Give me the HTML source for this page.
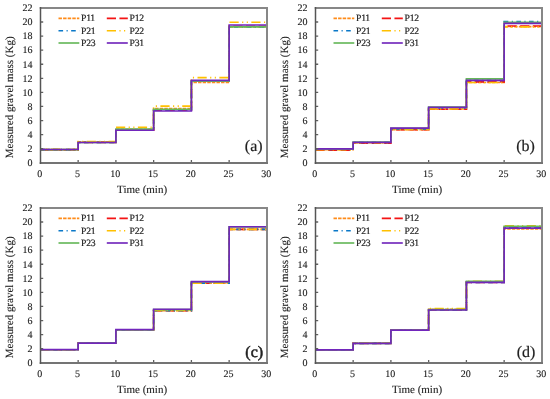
<!DOCTYPE html>
<html><head><meta charset="utf-8"><title>Measured gravel mass</title>
<style>
html,body{margin:0;padding:0;background:#fff;}
body{width:550px;height:399px;overflow:hidden;}
svg{display:block;text-rendering:geometricPrecision;}
text{font-family:"Liberation Serif","Times New Roman",serif;fill:#222;stroke:#222;stroke-width:0.3px;}
.tk{font-size:10px;stroke-width:0.12px;}
.lg{font-size:9.7px;letter-spacing:-0.25px;stroke-width:0.2px;}
.ti{font-size:11px;stroke-width:0.12px;}
.pl{font-size:16px;stroke-width:0.2px;}
.pl.b{stroke-width:0.55px;}
</style></head><body>
<svg width="550" height="399" viewBox="0 0 550 399">
<rect width="550" height="399" fill="#fff"/>
<g transform="translate(0 0)">
<text class="tk" x="32.6" y="166.1" text-anchor="end">0</text>
<text class="tk" x="32.6" y="152.02" text-anchor="end">2</text>
<text class="tk" x="32.6" y="137.94" text-anchor="end">4</text>
<text class="tk" x="32.6" y="123.85" text-anchor="end">6</text>
<text class="tk" x="32.6" y="109.77" text-anchor="end">8</text>
<text class="tk" x="32.6" y="95.69" text-anchor="end">10</text>
<text class="tk" x="32.6" y="81.61" text-anchor="end">12</text>
<text class="tk" x="32.6" y="67.53" text-anchor="end">14</text>
<text class="tk" x="32.6" y="53.45" text-anchor="end">16</text>
<text class="tk" x="32.6" y="39.36" text-anchor="end">18</text>
<text class="tk" x="32.6" y="25.28" text-anchor="end">20</text>
<text class="tk" x="32.6" y="11.2" text-anchor="end">22</text>
<text class="tk" x="39.8" y="177.3" text-anchor="middle">0</text>
<text class="tk" x="77.55" y="177.3" text-anchor="middle">5</text>
<text class="tk" x="115.3" y="177.3" text-anchor="middle">10</text>
<text class="tk" x="153.05" y="177.3" text-anchor="middle">15</text>
<text class="tk" x="190.8" y="177.3" text-anchor="middle">20</text>
<text class="tk" x="228.55" y="177.3" text-anchor="middle">25</text>
<text class="tk" x="266.3" y="177.3" text-anchor="middle">30</text>
<text class="ti" x="142.1" y="193" text-anchor="middle">Time (min)</text>
<text class="ti" transform="translate(13.3 97.3) rotate(-90)" text-anchor="middle">Measured gravel mass (Kg)</text>
<path d="M40.4 150.27H78.15V141.82H115.9V129.36H153.65V108.59H191.4V82.53H229.15V26.91H266.9" stroke="#ff8c1a" stroke-width="1.65" fill="none" stroke-dasharray="3.45 1.15"/>
<path d="M40.4 149.56H78.15V142.52H115.9V130.13H153.65V110.2H191.4V81.13H229.15V26.21H266.9" stroke="#f41414" stroke-width="1.65" fill="none" stroke-dasharray="9.2 3.45"/>
<path d="M40.4 149.56H78.15V142.52H115.9V129.71H153.65V109.99H191.4V81.13H229.15V26.91H266.9" stroke="#0a78c8" stroke-width="1.65" fill="none" stroke-dasharray="4.6 3.45 1.15 3.45"/>
<path d="M40.4 149.42H78.15V141.68H115.9V127.31H153.65V106.12H191.4V77.68H229.15V22.26H266.9" stroke="#ffc000" stroke-width="1.65" fill="none" stroke-dasharray="9.2 3.45 1.15 3.45 1.15 3.45" stroke-dashoffset="11.5"/>
<path d="M40.4 149.56H78.15V142.52H115.9V129.07H153.65V109.29H191.4V81.13H229.15V26.91H266.9" stroke="#66b85a" stroke-width="1.65" fill="none"/>
<path d="M40.4 149.49H78.15V142.52H115.9V130.2H153.65V110.98H191.4V80.42H229.15V25.01H266.9" stroke="#7226bc" stroke-width="1.65" fill="none"/>
<path d="M40.4 148.72H43.2M40.4 134.64H43.2M40.4 120.55H43.2M40.4 106.47H43.2M40.4 92.39H43.2M40.4 78.31H43.2M40.4 64.23H43.2M40.4 50.15H43.2M40.4 36.06H43.2M40.4 21.98H43.2M78.15 162.8V160M115.9 162.8V160M153.65 162.8V160M191.4 162.8V160M229.15 162.8V160" stroke="#5f5f5f" stroke-width="1.3" fill="none"/>
<path d="M39.75 8H268" stroke="#878787" stroke-width="2" fill="none"/>
<path d="M267 7V164" stroke="#878787" stroke-width="2" fill="none"/>
<path d="M39.75 163H268" stroke="#747474" stroke-width="2" fill="none"/>
<path d="M40.5 7V164" stroke="#555" stroke-width="1.5" fill="none"/>
<path d="M58.5 18.3H79.3" stroke="#ff8c1a" stroke-width="1.65" fill="none" stroke-dasharray="3.45 1.15"/>
<text class="lg" x="81" y="21.4">P11</text>
<path d="M106.8 18.3H127.8" stroke="#f41414" stroke-width="1.65" fill="none" stroke-dasharray="9.2 3.45"/>
<text class="lg" x="129.6" y="21.4">P12</text>
<path d="M58.5 30.7H79.3" stroke="#0a78c8" stroke-width="1.65" fill="none" stroke-dasharray="4.6 3.45 1.15 3.45"/>
<text class="lg" x="81" y="33.8">P21</text>
<path d="M106.8 30.7H127.8" stroke="#ffc000" stroke-width="1.65" fill="none" stroke-dasharray="9.2 3.45 1.15 3.45 1.15 3.45"/>
<text class="lg" x="129.6" y="33.8">P22</text>
<path d="M58.5 43H79.3" stroke="#66b85a" stroke-width="1.65" fill="none"/>
<text class="lg" x="81" y="46.1">P23</text>
<path d="M106.8 43H127.8" stroke="#7226bc" stroke-width="1.65" fill="none"/>
<text class="lg" x="129.6" y="46.1">P31</text>
<text class="pl" x="262.6" y="150.6" text-anchor="end">(a)</text>
</g>
<g transform="translate(275 0)">
<text class="tk" x="32.6" y="166.1" text-anchor="end">0</text>
<text class="tk" x="32.6" y="152.02" text-anchor="end">2</text>
<text class="tk" x="32.6" y="137.94" text-anchor="end">4</text>
<text class="tk" x="32.6" y="123.85" text-anchor="end">6</text>
<text class="tk" x="32.6" y="109.77" text-anchor="end">8</text>
<text class="tk" x="32.6" y="95.69" text-anchor="end">10</text>
<text class="tk" x="32.6" y="81.61" text-anchor="end">12</text>
<text class="tk" x="32.6" y="67.53" text-anchor="end">14</text>
<text class="tk" x="32.6" y="53.45" text-anchor="end">16</text>
<text class="tk" x="32.6" y="39.36" text-anchor="end">18</text>
<text class="tk" x="32.6" y="25.28" text-anchor="end">20</text>
<text class="tk" x="32.6" y="11.2" text-anchor="end">22</text>
<text class="tk" x="39.8" y="177.3" text-anchor="middle">0</text>
<text class="tk" x="77.55" y="177.3" text-anchor="middle">5</text>
<text class="tk" x="115.3" y="177.3" text-anchor="middle">10</text>
<text class="tk" x="153.05" y="177.3" text-anchor="middle">15</text>
<text class="tk" x="190.8" y="177.3" text-anchor="middle">20</text>
<text class="tk" x="228.55" y="177.3" text-anchor="middle">25</text>
<text class="tk" x="266.3" y="177.3" text-anchor="middle">30</text>
<text class="ti" x="142.1" y="193" text-anchor="middle">Time (min)</text>
<text class="ti" transform="translate(13.3 97.3) rotate(-90)" text-anchor="middle">Measured gravel mass (Kg)</text>
<path d="M40.4 149.77H78.15V142.73H115.9V129.57H153.65V109.08H191.4V82.53H229.15V26.56H266.9" stroke="#ff8c1a" stroke-width="1.65" fill="none" stroke-dasharray="3.45 1.15"/>
<path d="M40.4 150.13H78.15V143.09H115.9V129.57H153.65V109.29H191.4V81.83H229.15V26H266.9" stroke="#f41414" stroke-width="1.65" fill="none" stroke-dasharray="9.2 3.45"/>
<path d="M40.4 149.42H78.15V142.38H115.9V129H153.65V107.88H191.4V80.42H229.15V21.49H266.9" stroke="#0a78c8" stroke-width="1.65" fill="none" stroke-dasharray="4.6 3.45 1.15 3.45"/>
<path d="M40.4 149.77H78.15V142.73H115.9V129.36H153.65V108.94H191.4V82.53H229.15V26.91H266.9" stroke="#ffc000" stroke-width="1.65" fill="none" stroke-dasharray="9.2 3.45 1.15 3.45 1.15 3.45"/>
<path d="M40.4 149.07H78.15V142.03H115.9V128.3H153.65V107.18H191.4V78.87H229.15V22.26H266.9" stroke="#66b85a" stroke-width="1.65" fill="none"/>
<path d="M40.4 148.93H78.15V142.38H115.9V128.09H153.65V107.32H191.4V80.42H229.15V23.39H266.9" stroke="#7226bc" stroke-width="1.65" fill="none"/>
<path d="M40.4 148.72H43.2M40.4 134.64H43.2M40.4 120.55H43.2M40.4 106.47H43.2M40.4 92.39H43.2M40.4 78.31H43.2M40.4 64.23H43.2M40.4 50.15H43.2M40.4 36.06H43.2M40.4 21.98H43.2M78.15 162.8V160M115.9 162.8V160M153.65 162.8V160M191.4 162.8V160M229.15 162.8V160" stroke="#5f5f5f" stroke-width="1.3" fill="none"/>
<path d="M39.75 8H268" stroke="#878787" stroke-width="2" fill="none"/>
<path d="M267 7V164" stroke="#878787" stroke-width="2" fill="none"/>
<path d="M39.75 163H268" stroke="#747474" stroke-width="2" fill="none"/>
<path d="M40.5 7V164" stroke="#555" stroke-width="1.5" fill="none"/>
<path d="M58.5 18.3H79.3" stroke="#ff8c1a" stroke-width="1.65" fill="none" stroke-dasharray="3.45 1.15"/>
<text class="lg" x="81" y="21.4">P11</text>
<path d="M106.8 18.3H127.8" stroke="#f41414" stroke-width="1.65" fill="none" stroke-dasharray="9.2 3.45"/>
<text class="lg" x="129.6" y="21.4">P12</text>
<path d="M58.5 30.7H79.3" stroke="#0a78c8" stroke-width="1.65" fill="none" stroke-dasharray="4.6 3.45 1.15 3.45"/>
<text class="lg" x="81" y="33.8">P21</text>
<path d="M106.8 30.7H127.8" stroke="#ffc000" stroke-width="1.65" fill="none" stroke-dasharray="9.2 3.45 1.15 3.45 1.15 3.45"/>
<text class="lg" x="129.6" y="33.8">P22</text>
<path d="M58.5 43H79.3" stroke="#66b85a" stroke-width="1.65" fill="none"/>
<text class="lg" x="81" y="46.1">P23</text>
<path d="M106.8 43H127.8" stroke="#7226bc" stroke-width="1.65" fill="none"/>
<text class="lg" x="129.6" y="46.1">P31</text>
<text class="pl" x="259.8" y="150.6" text-anchor="end">(b)</text>
</g>
<g transform="translate(0 200)">
<text class="tk" x="32.6" y="166.1" text-anchor="end">0</text>
<text class="tk" x="32.6" y="152.02" text-anchor="end">2</text>
<text class="tk" x="32.6" y="137.94" text-anchor="end">4</text>
<text class="tk" x="32.6" y="123.85" text-anchor="end">6</text>
<text class="tk" x="32.6" y="109.77" text-anchor="end">8</text>
<text class="tk" x="32.6" y="95.69" text-anchor="end">10</text>
<text class="tk" x="32.6" y="81.61" text-anchor="end">12</text>
<text class="tk" x="32.6" y="67.53" text-anchor="end">14</text>
<text class="tk" x="32.6" y="53.45" text-anchor="end">16</text>
<text class="tk" x="32.6" y="39.36" text-anchor="end">18</text>
<text class="tk" x="32.6" y="25.28" text-anchor="end">20</text>
<text class="tk" x="32.6" y="11.2" text-anchor="end">22</text>
<text class="tk" x="39.8" y="177.3" text-anchor="middle">0</text>
<text class="tk" x="77.55" y="177.3" text-anchor="middle">5</text>
<text class="tk" x="115.3" y="177.3" text-anchor="middle">10</text>
<text class="tk" x="153.05" y="177.3" text-anchor="middle">15</text>
<text class="tk" x="190.8" y="177.3" text-anchor="middle">20</text>
<text class="tk" x="228.55" y="177.3" text-anchor="middle">25</text>
<text class="tk" x="266.3" y="177.3" text-anchor="middle">30</text>
<text class="ti" x="142.1" y="193" text-anchor="middle">Time (min)</text>
<text class="ti" transform="translate(13.3 97.3) rotate(-90)" text-anchor="middle">Measured gravel mass (Kg)</text>
<path d="M40.4 149.77H78.15V143.09H115.9V129.71H153.65V110.63H191.4V83.24H229.15V29.37H266.9" stroke="#ff8c1a" stroke-width="1.65" fill="none" stroke-dasharray="3.45 1.15"/>
<path d="M40.4 149.77H78.15V143.09H115.9V129.71H153.65V110.63H191.4V83.24H229.15V29.37H266.9" stroke="#f41414" stroke-width="1.65" fill="none" stroke-dasharray="9.2 3.45"/>
<path d="M40.4 149.77H78.15V143.09H115.9V129.71H153.65V110.63H191.4V83.24H229.15V29.37H266.9" stroke="#0a78c8" stroke-width="1.65" fill="none" stroke-dasharray="4.6 3.45 1.15 3.45"/>
<path d="M40.4 149.77H78.15V143.09H115.9V129.71H153.65V110.35H191.4V83.24H229.15V29.37H266.9" stroke="#ffc000" stroke-width="1.65" fill="none" stroke-dasharray="9.2 3.45 1.15 3.45 1.15 3.45"/>
<path d="M40.4 149.77H78.15V143.09H115.9V129.99H153.65V109.64H191.4V81.83H229.15V26.91H266.9" stroke="#66b85a" stroke-width="1.65" fill="none"/>
<path d="M40.4 149.6H78.15V143.09H115.9V129.57H153.65V109.29H191.4V81.62H229.15V26.77H266.9" stroke="#7226bc" stroke-width="1.65" fill="none"/>
<path d="M40.4 148.72H43.2M40.4 134.64H43.2M40.4 120.55H43.2M40.4 106.47H43.2M40.4 92.39H43.2M40.4 78.31H43.2M40.4 64.23H43.2M40.4 50.15H43.2M40.4 36.06H43.2M40.4 21.98H43.2M78.15 162.8V160M115.9 162.8V160M153.65 162.8V160M191.4 162.8V160M229.15 162.8V160" stroke="#5f5f5f" stroke-width="1.3" fill="none"/>
<path d="M39.75 8H268" stroke="#878787" stroke-width="2" fill="none"/>
<path d="M267 7V164" stroke="#878787" stroke-width="2" fill="none"/>
<path d="M39.75 163H268" stroke="#747474" stroke-width="2" fill="none"/>
<path d="M40.5 7V164" stroke="#555" stroke-width="1.5" fill="none"/>
<path d="M58.5 18.3H79.3" stroke="#ff8c1a" stroke-width="1.65" fill="none" stroke-dasharray="3.45 1.15"/>
<text class="lg" x="81" y="21.4">P11</text>
<path d="M106.8 18.3H127.8" stroke="#f41414" stroke-width="1.65" fill="none" stroke-dasharray="9.2 3.45"/>
<text class="lg" x="129.6" y="21.4">P12</text>
<path d="M58.5 30.7H79.3" stroke="#0a78c8" stroke-width="1.65" fill="none" stroke-dasharray="4.6 3.45 1.15 3.45"/>
<text class="lg" x="81" y="33.8">P21</text>
<path d="M106.8 30.7H127.8" stroke="#ffc000" stroke-width="1.65" fill="none" stroke-dasharray="9.2 3.45 1.15 3.45 1.15 3.45"/>
<text class="lg" x="129.6" y="33.8">P22</text>
<path d="M58.5 43H79.3" stroke="#66b85a" stroke-width="1.65" fill="none"/>
<text class="lg" x="81" y="46.1">P23</text>
<path d="M106.8 43H127.8" stroke="#7226bc" stroke-width="1.65" fill="none"/>
<text class="lg" x="129.6" y="46.1">P31</text>
<text class="pl b" x="263.1" y="157.2" text-anchor="end">(c)</text>
</g>
<g transform="translate(275 200)">
<text class="tk" x="32.6" y="166.1" text-anchor="end">0</text>
<text class="tk" x="32.6" y="152.02" text-anchor="end">2</text>
<text class="tk" x="32.6" y="137.94" text-anchor="end">4</text>
<text class="tk" x="32.6" y="123.85" text-anchor="end">6</text>
<text class="tk" x="32.6" y="109.77" text-anchor="end">8</text>
<text class="tk" x="32.6" y="95.69" text-anchor="end">10</text>
<text class="tk" x="32.6" y="81.61" text-anchor="end">12</text>
<text class="tk" x="32.6" y="67.53" text-anchor="end">14</text>
<text class="tk" x="32.6" y="53.45" text-anchor="end">16</text>
<text class="tk" x="32.6" y="39.36" text-anchor="end">18</text>
<text class="tk" x="32.6" y="25.28" text-anchor="end">20</text>
<text class="tk" x="32.6" y="11.2" text-anchor="end">22</text>
<text class="tk" x="39.8" y="177.3" text-anchor="middle">0</text>
<text class="tk" x="77.55" y="177.3" text-anchor="middle">5</text>
<text class="tk" x="115.3" y="177.3" text-anchor="middle">10</text>
<text class="tk" x="153.05" y="177.3" text-anchor="middle">15</text>
<text class="tk" x="190.8" y="177.3" text-anchor="middle">20</text>
<text class="tk" x="228.55" y="177.3" text-anchor="middle">25</text>
<text class="tk" x="266.3" y="177.3" text-anchor="middle">30</text>
<text class="ti" x="142.1" y="193" text-anchor="middle">Time (min)</text>
<text class="ti" transform="translate(13.3 97.3) rotate(-90)" text-anchor="middle">Measured gravel mass (Kg)</text>
<path d="M40.4 149.77H78.15V143.09H115.9V129.71H153.65V109.29H191.4V81.83H229.15V28.88H266.9" stroke="#ff8c1a" stroke-width="1.65" fill="none" stroke-dasharray="3.45 1.15"/>
<path d="M40.4 149.92H78.15V143.37H115.9V130.13H153.65V109.99H191.4V82.39H229.15V27.4H266.9" stroke="#f41414" stroke-width="1.65" fill="none" stroke-dasharray="9.2 3.45"/>
<path d="M40.4 149.92H78.15V143.37H115.9V130.13H153.65V109.99H191.4V82.39H229.15V27.4H266.9" stroke="#0a78c8" stroke-width="1.65" fill="none" stroke-dasharray="4.6 3.45 1.15 3.45"/>
<path d="M40.4 149.77H78.15V143.09H115.9V129.71H153.65V108.51H191.4V81.2H229.15V25.85H266.9" stroke="#ffc000" stroke-width="1.65" fill="none" stroke-dasharray="9.2 3.45 1.15 3.45 1.15 3.45" stroke-dashoffset="14.4"/>
<path d="M40.4 149.92H78.15V143.37H115.9V130.13H153.65V109.64H191.4V81.2H229.15V26.42H266.9" stroke="#66b85a" stroke-width="1.65" fill="none"/>
<path d="M40.4 149.92H78.15V143.37H115.9V130.13H153.65V109.99H191.4V82.39H229.15V28.18H266.9" stroke="#7226bc" stroke-width="1.65" fill="none"/>
<path d="M40.4 148.72H43.2M40.4 134.64H43.2M40.4 120.55H43.2M40.4 106.47H43.2M40.4 92.39H43.2M40.4 78.31H43.2M40.4 64.23H43.2M40.4 50.15H43.2M40.4 36.06H43.2M40.4 21.98H43.2M78.15 162.8V160M115.9 162.8V160M153.65 162.8V160M191.4 162.8V160M229.15 162.8V160" stroke="#5f5f5f" stroke-width="1.3" fill="none"/>
<path d="M39.75 8H268" stroke="#878787" stroke-width="2" fill="none"/>
<path d="M267 7V164" stroke="#878787" stroke-width="2" fill="none"/>
<path d="M39.75 163H268" stroke="#747474" stroke-width="2" fill="none"/>
<path d="M40.5 7V164" stroke="#555" stroke-width="1.5" fill="none"/>
<path d="M58.5 18.3H79.3" stroke="#ff8c1a" stroke-width="1.65" fill="none" stroke-dasharray="3.45 1.15"/>
<text class="lg" x="81" y="21.4">P11</text>
<path d="M106.8 18.3H127.8" stroke="#f41414" stroke-width="1.65" fill="none" stroke-dasharray="9.2 3.45"/>
<text class="lg" x="129.6" y="21.4">P12</text>
<path d="M58.5 30.7H79.3" stroke="#0a78c8" stroke-width="1.65" fill="none" stroke-dasharray="4.6 3.45 1.15 3.45"/>
<text class="lg" x="81" y="33.8">P21</text>
<path d="M106.8 30.7H127.8" stroke="#ffc000" stroke-width="1.65" fill="none" stroke-dasharray="9.2 3.45 1.15 3.45 1.15 3.45"/>
<text class="lg" x="129.6" y="33.8">P22</text>
<path d="M58.5 43H79.3" stroke="#66b85a" stroke-width="1.65" fill="none"/>
<text class="lg" x="81" y="46.1">P23</text>
<path d="M106.8 43H127.8" stroke="#7226bc" stroke-width="1.65" fill="none"/>
<text class="lg" x="129.6" y="46.1">P31</text>
<text class="pl" x="260.3" y="157.2" text-anchor="end">(d)</text>
</g>
</svg>
</body></html>
